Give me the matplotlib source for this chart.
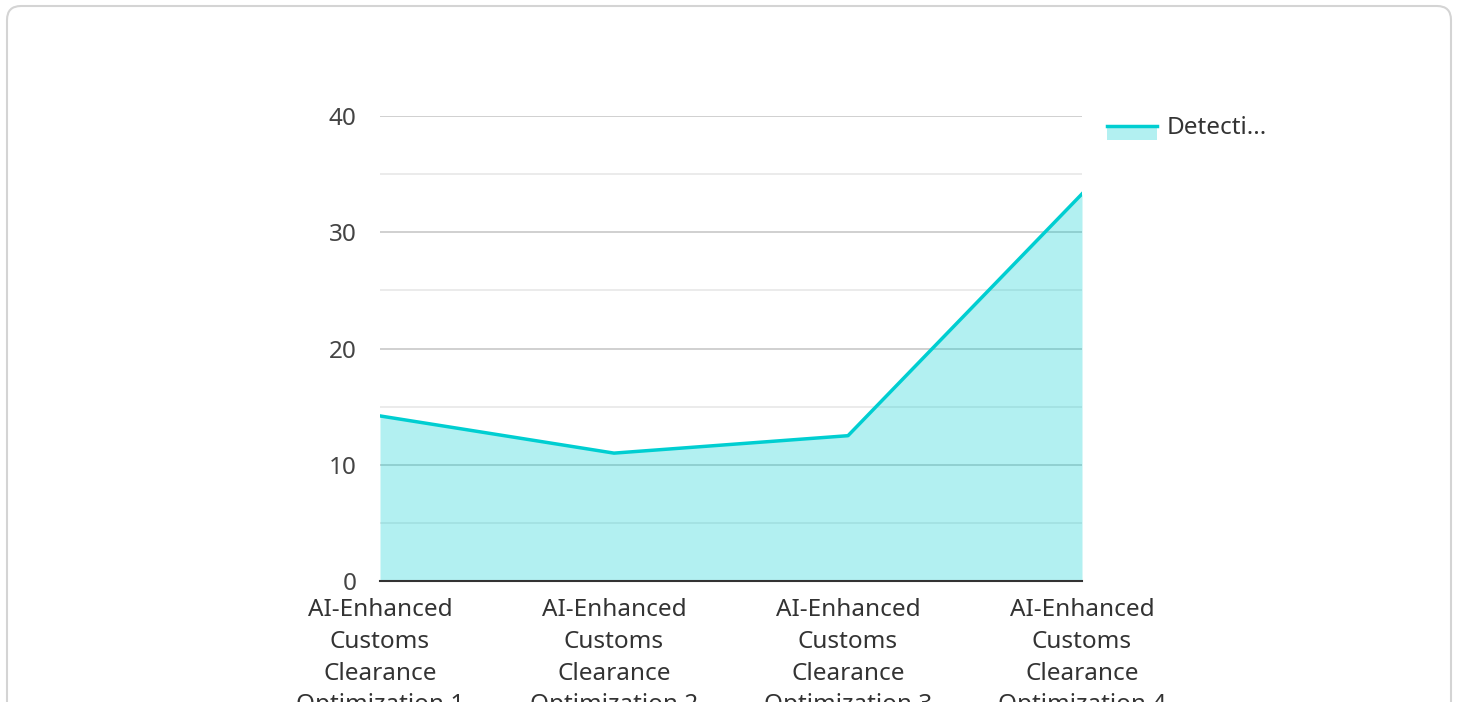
import matplotlib.pyplot as plt
from matplotlib.patches import FancyBboxPatch, Rectangle
from matplotlib.lines import Line2D

plt.rcParams['font.family'] = ['Noto Sans', 'DejaVu Sans']

# chart data
categories = [
    'AI-Enhanced\nCustoms\nClearance\nOptimization 1',
    'AI-Enhanced\nCustoms\nClearance\nOptimization 2',
    'AI-Enhanced\nCustoms\nClearance\nOptimization 3',
    'AI-Enhanced\nCustoms\nClearance\nOptimization 4',
]
detection = [14.2, 11.0, 12.5, 33.3]
series_label = 'Detecti...'
y_ticks = [0, 10, 20, 30, 40]
y_minor = [5, 15, 25, 35]

W, H = 1458, 702
line_color = '#00CED1'
fs = 17.5

fig = plt.figure(figsize=(W / 100, H / 100), dpi=100)
fig.patch.set_facecolor('white')

# card border (pixel coords, origin bottom-left; bottom edge runs off the figure)
card = FancyBboxPatch((7, -40), 1444, H - 6 + 40, boxstyle='round,pad=0,rounding_size=14',
                      transform=None, facecolor='white', edgecolor='#d4d4d4',
                      linewidth=1.5, zorder=-5)
fig.patches.append(card)

ax = fig.add_axes([380 / W, (H - 581) / H, (1082 - 380) / W, (581 - 116) / H])
ax.set_facecolor('none')

x = list(range(len(categories)))
ax.fill_between(x, detection, 0, color=line_color, alpha=0.3, linewidth=0, zorder=2)
ax.plot(x, detection, color=line_color, linewidth=2.5, zorder=3)

ax.set_xlim(0, len(categories) - 1)
ax.set_ylim(0, 40)
ax.set_yticks(y_ticks)
ax.set_yticks(y_minor, minor=True)
ax.set_xticks(x)
ax.set_xticklabels(categories, fontsize=fs, color='#333333', linespacing=1.44)
ax.tick_params(axis='y', which='both', length=0, pad=17, labelsize=fs, labelcolor='#444444')
ax.tick_params(axis='x', length=0, pad=12)

ax.grid(axis='y', which='major', color='#c8c8c8', linewidth=1.2, zorder=1)
ax.grid(axis='y', which='minor', color='#e8e8e8', linewidth=1.2, zorder=1)
ax.grid(axis='x', visible=False)
for side in ['top', 'right', 'left']:
    ax.spines[side].set_visible(False)
ax.spines['bottom'].set_color('#333333')
ax.spines['bottom'].set_linewidth(1.5)
ax.spines['bottom'].set_zorder(4)

# legend (line on top of filled swatch)
fig.patches.append(Rectangle((1107, H - 140), 50, 14, transform=None,
                             facecolor=line_color, alpha=0.3, linewidth=0))
fig.lines.append(Line2D([1107, 1157], [H - 126, H - 126], transform=None,
                        color=line_color, linewidth=2.5))
fig.text(1167 / W, (H - 128) / H, series_label, fontsize=fs, color='#333333',
         ha='left', va='center')

fig.savefig('out.png', dpi=100)
